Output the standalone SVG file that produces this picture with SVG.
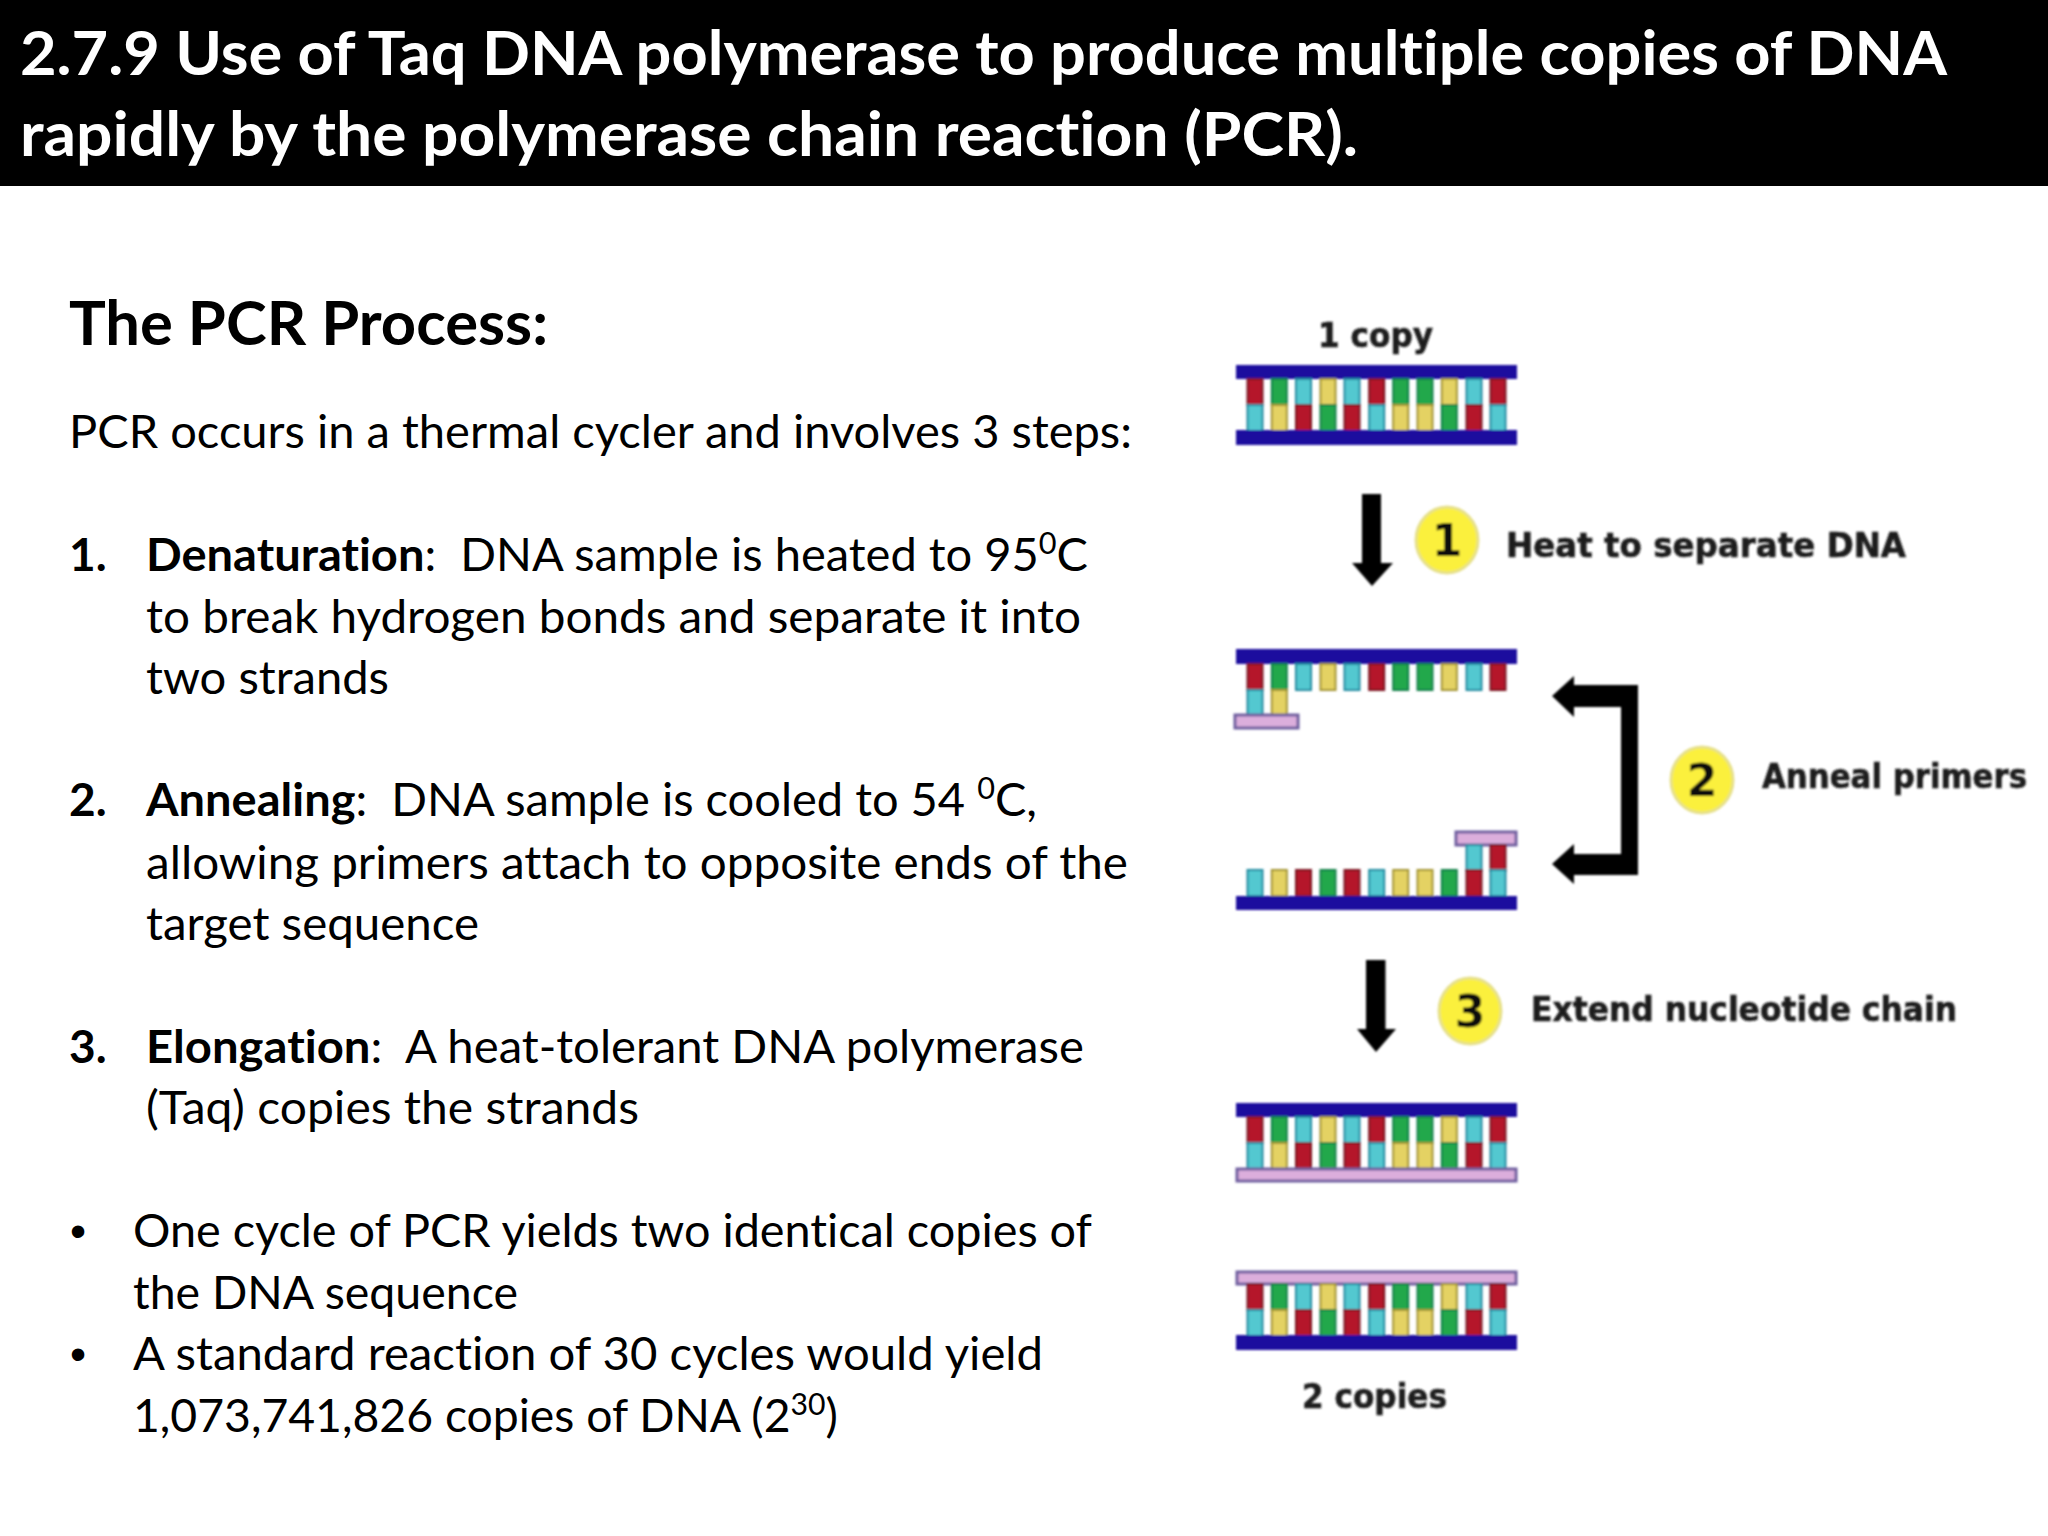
<svg xmlns="http://www.w3.org/2000/svg" width="2048" height="1536" viewBox="0 0 2048 1536">
<style>
text{font-family:Lato,"Liberation Sans",sans-serif;white-space:pre;font-variant-ligatures:none}
.title{font-size:62px;font-weight:700;fill:#fff}
.head{font-size:62px;font-weight:700;fill:#000}
.body{font-size:46px;fill:#000}
.b{font-weight:700}
.bullet{font-family:"Liberation Sans",sans-serif;font-size:46px;fill:#000}
.fig{font-family:"DejaVu Sans Condensed","Liberation Sans",sans-serif;font-size:34px;font-weight:700;fill:#1a1a1a;stroke:#1a1a1a;stroke-width:.5}
.num{font-family:"DejaVu Sans","Liberation Sans",sans-serif;font-size:44px;font-weight:700;fill:#111;text-anchor:middle}
.strand{fill:#1b0b9e}
.primer{fill:#dcaedc;stroke:#6f5f9f;stroke-width:3}
.r{fill:#b5142c;stroke:#7a1420}
.g{fill:#22a84c;stroke:#15804a}
.c{fill:#52c8d0;stroke:#228aa0}
.y{fill:#e4d264;stroke:#a39433}
.rung{stroke-width:2}
.badge{fill:#fbf03c;stroke:#e6e08a;stroke-width:3}
.arrow{fill:#000}
</style>
<defs>
<filter id="soft" x="-5%" y="-5%" width="110%" height="110%"><feGaussianBlur stdDeviation="1"/></filter>
<rect id="rung" class="rung" x="-7.5" y="0" width="15" height="26"/>
<g id="upper">
<use href="#rung" class="r" x="1255"/><use href="#rung" class="g" x="1279.3"/><use href="#rung" class="c" x="1303.5"/><use href="#rung" class="y" x="1328"/><use href="#rung" class="c" x="1352"/><use href="#rung" class="r" x="1376.7"/><use href="#rung" class="g" x="1400.7"/><use href="#rung" class="g" x="1425"/><use href="#rung" class="y" x="1449.3"/><use href="#rung" class="c" x="1474"/><use href="#rung" class="r" x="1498"/>
</g>
<g id="lower">
<use href="#rung" class="c" x="1255"/><use href="#rung" class="y" x="1279.3"/><use href="#rung" class="r" x="1303.5"/><use href="#rung" class="g" x="1328"/><use href="#rung" class="r" x="1352"/><use href="#rung" class="c" x="1376.7"/><use href="#rung" class="y" x="1400.7"/><use href="#rung" class="y" x="1425"/><use href="#rung" class="g" x="1449.3"/><use href="#rung" class="r" x="1474"/><use href="#rung" class="c" x="1498"/>
</g>
</defs>
<rect width="2048" height="1536" fill="#fff"/>
<g id="title-band">
<rect width="2048" height="186" fill="#000"/>
<text class="title" x="20" y="75" textLength="1927" lengthAdjust="spacingAndGlyphs">2.7.9 Use of Taq DNA polymerase to produce multiple copies of DNA</text>
<text class="title" x="20" y="156" textLength="1338" lengthAdjust="spacingAndGlyphs">rapidly by the polymerase chain reaction (PCR).</text>
</g>
<g id="process-text">
<text class="head" x="69" y="345" textLength="479" lengthAdjust="spacingAndGlyphs">The PCR Process:</text>
<text class="body" x="69" y="448" textLength="1063" lengthAdjust="spacingAndGlyphs">PCR occurs in a thermal cycler and involves 3 steps:</text>
<text class="body b" x="69" y="571">1.</text>
<text class="body" x="146" y="571" textLength="942" lengthAdjust="spacingAndGlyphs"><tspan class="b">Denaturation</tspan>:  DNA sample is heated to 95<tspan font-size="30" dy="-17">0</tspan><tspan dy="17">C</tspan></text>
<text class="body" x="146" y="633" textLength="935" lengthAdjust="spacingAndGlyphs">to break hydrogen bonds and separate it into</text>
<text class="body" x="146" y="694" textLength="243" lengthAdjust="spacingAndGlyphs">two strands</text>
<text class="body b" x="69" y="816">2.</text>
<text class="body" x="146" y="816" textLength="891" lengthAdjust="spacingAndGlyphs"><tspan class="b">Annealing</tspan>:  DNA sample is cooled to 54 <tspan font-size="30" dy="-17">0</tspan><tspan dy="17">C,</tspan></text>
<text class="body" x="146" y="879" textLength="982" lengthAdjust="spacingAndGlyphs">allowing primers attach to opposite ends of the</text>
<text class="body" x="146" y="940" textLength="333" lengthAdjust="spacingAndGlyphs">target sequence</text>
<text class="body b" x="69" y="1063">3.</text>
<text class="body" x="146" y="1063" textLength="938" lengthAdjust="spacingAndGlyphs"><tspan class="b">Elongation</tspan>:  A heat-tolerant DNA polymerase</text>
<text class="body" x="146" y="1124" textLength="493" lengthAdjust="spacingAndGlyphs">(Taq) copies the strands</text>
<text class="bullet" x="70" y="1247">•</text>
<text class="body" x="133" y="1247" textLength="959" lengthAdjust="spacingAndGlyphs">One cycle of PCR yields two identical copies of</text>
<text class="body" x="133" y="1309" textLength="385" lengthAdjust="spacingAndGlyphs">the DNA sequence</text>
<text class="bullet" x="70" y="1370">•</text>
<text class="body" x="133" y="1370" textLength="910" lengthAdjust="spacingAndGlyphs">A standard reaction of 30 cycles would yield</text>
<text class="body" x="133" y="1432" textLength="705" lengthAdjust="spacingAndGlyphs">1,073,741,826 copies of DNA (2<tspan font-size="30" dy="-17">30</tspan><tspan dy="17">)</tspan></text>
</g>
<g id="figure" filter="url(#soft)">
<g id="connectors">
<path class="arrow" d="M1362 494H1381V563H1393L1372 586L1352 563H1362Z"/>
<path class="arrow" d="M1366 960H1385.5V1029H1396L1376 1052L1357 1029H1366Z"/>
<path class="arrow" d="M1552 696L1574 676V685H1638V875H1574V884L1552 864L1574 844V854H1621V707H1574V717Z"/>
</g>
<g id="dna-one-copy">
<text class="fig" x="1318" y="347" textLength="115" lengthAdjust="spacingAndGlyphs">1 copy</text>
<rect class="strand" x="1236" y="365" width="281" height="14"/>
<use href="#upper" y="379"/><use href="#lower" y="405"/>
<rect class="strand" x="1236" y="430" width="281" height="15"/>
</g>
<g id="step-1">
<ellipse class="badge" cx="1447" cy="540" rx="31" ry="33"/>
<text class="num" x="1447" y="556">1</text>
<text class="fig" x="1506" y="557" textLength="400" lengthAdjust="spacingAndGlyphs">Heat to separate DNA</text>
</g>
<g id="dna-annealed-top">
<rect class="strand" x="1236" y="649" width="281" height="15"/>
<use href="#upper" y="664"/>
<use href="#rung" class="c" x="1255" y="690"/><use href="#rung" class="y" x="1279.3" y="690"/>
<rect class="primer" x="1235" y="715" width="63" height="13"/>
</g>
<g id="dna-annealed-bottom">
<rect class="primer" x="1456" y="832" width="60" height="13"/>
<use href="#rung" class="c" x="1474" y="845"/><use href="#rung" class="r" x="1498" y="845"/>
<use href="#lower" y="870"/>
<rect class="strand" x="1236" y="896" width="281" height="14"/>
</g>
<g id="step-2">
<ellipse class="badge" cx="1702" cy="780" rx="31" ry="33"/>
<text class="num" x="1702" y="796">2</text>
<text class="fig" x="1762" y="788" textLength="265" lengthAdjust="spacingAndGlyphs">Anneal primers</text>
</g>
<g id="step-3">
<ellipse class="badge" cx="1470" cy="1011" rx="31" ry="33"/>
<text class="num" x="1470" y="1027">3</text>
<text class="fig" x="1531" y="1021" textLength="426" lengthAdjust="spacingAndGlyphs">Extend nucleotide chain</text>
</g>
<g id="dna-copy-a">
<rect class="strand" x="1236" y="1103" width="281" height="14"/>
<use href="#upper" y="1117"/><use href="#lower" y="1143"/>
<rect class="primer" x="1237" y="1169" width="279" height="12"/>
</g>
<g id="dna-copy-b">
<rect class="primer" x="1237" y="1272" width="279" height="12"/>
<use href="#upper" y="1284"/><use href="#lower" y="1310"/>
<rect class="strand" x="1236" y="1335" width="281" height="15"/>
<text class="fig" x="1302" y="1408" textLength="145" lengthAdjust="spacingAndGlyphs">2 copies</text>
</g>
</g>
</svg>
